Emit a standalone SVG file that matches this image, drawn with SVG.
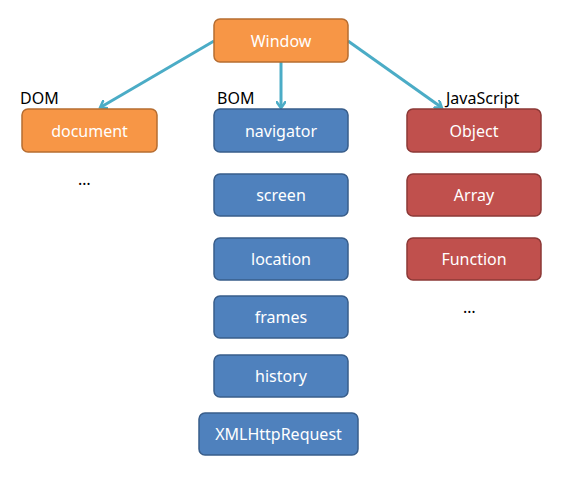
<svg xmlns="http://www.w3.org/2000/svg" width="573" height="481" viewBox="0 0 573 481">
<defs>
<style>
.box{stroke-width:1.5}
.o{fill:#F79646;stroke:#B66D31}
.b{fill:#4F81BD;stroke:#385D8A}
.r{fill:#C0504D;stroke:#8C3836}
.t{font-family:"Noto Sans","Open Sans",sans-serif;font-size:16px;fill:#fff;text-anchor:middle;dominant-baseline:central}
.l{font-family:"Noto Sans","Open Sans",sans-serif;font-size:16px;fill:#000}
.c{stroke:#4BACC6;stroke-width:3;fill:none;marker-end:url(#ah)}
</style>
<marker id="ah" markerWidth="10" markerHeight="10" refX="6" refY="5" orient="auto" markerUnits="userSpaceOnUse" viewBox="0 0 10 10">
<path d="M0,0 L7,5 L0,10" fill="none" stroke="#4BACC6" stroke-width="2.5"/>
</marker>
</defs>
<rect width="573" height="481" fill="#fff"/>
<g id="connectors">
<line class="c" x1="214" y1="41" x2="101" y2="107"/>
<line class="c" x1="281" y1="62" x2="281" y2="107"/>
<line class="c" x1="348" y1="41" x2="441" y2="107"/>
</g>
<g id="window"><rect class="box o" x="214" y="19" width="134" height="43" rx="6"/><text class="t" x="281" y="41">Window</text></g>
<g id="labels">
<text class="l" x="20" y="104">DOM</text>
<text class="l" x="217" y="104">BOM</text>
<text class="l" x="446" y="104">JavaScript</text>
<text class="l" x="78" y="185">…</text>
<text class="l" x="463" y="313">…</text>
</g>
<g id="document"><rect class="box o" x="22" y="109" width="135" height="43" rx="6"/><text class="t" x="89.5" y="131">document</text></g>
<g id="navigator"><rect class="box b" x="214" y="109" width="134" height="43" rx="6"/><text class="t" x="281" y="131">navigator</text></g>
<g id="screen"><rect class="box b" x="214" y="174" width="134" height="42" rx="6"/><text class="t" x="281" y="195">screen</text></g>
<g id="location"><rect class="box b" x="214" y="238" width="134" height="42" rx="6"/><text class="t" x="281" y="259">location</text></g>
<g id="frames"><rect class="box b" x="214" y="296" width="134" height="42" rx="6"/><text class="t" x="281" y="317">frames</text></g>
<g id="history"><rect class="box b" x="214" y="355" width="134" height="42" rx="6"/><text class="t" x="281" y="376">history</text></g>
<g id="xhr"><rect class="box b" x="199" y="413" width="159" height="42" rx="6"/><text class="t" x="278.5" y="434">XMLHttpRequest</text></g>
<g id="object"><rect class="box r" x="407" y="109" width="134" height="43" rx="6"/><text class="t" x="474" y="131">Object</text></g>
<g id="array"><rect class="box r" x="407" y="174" width="134" height="42" rx="6"/><text class="t" x="474" y="195">Array</text></g>
<g id="function"><rect class="box r" x="407" y="238" width="134" height="42" rx="6"/><text class="t" x="474" y="259">Function</text></g>
</svg>
